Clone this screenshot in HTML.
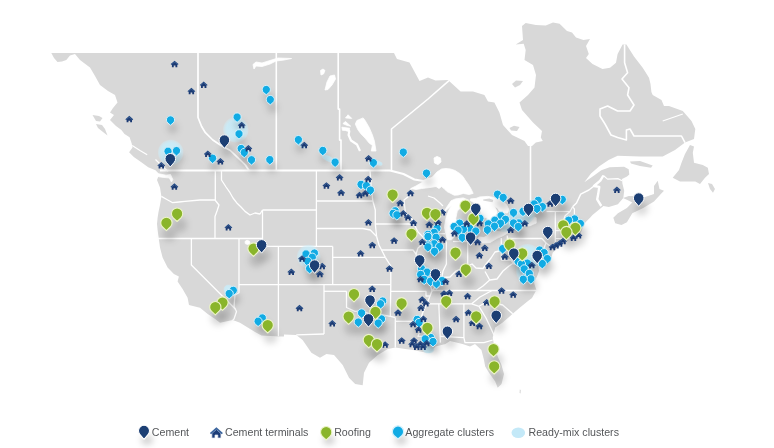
<!DOCTYPE html><html><head><meta charset="utf-8"><style>
html,body{margin:0;padding:0;background:#fff;}body{width:774px;height:448px;overflow:hidden;font-family:"Liberation Sans",sans-serif;}svg{display:block;will-change:transform;transform:translateZ(0)}
.lg{font-size:10.65px;fill:#55575a;font-family:"Liberation Sans",sans-serif;}
</style></head><body>
<svg width="774" height="448" viewBox="0 0 774 448">
<defs>
<filter id="sh" x="-80%" y="-80%" width="300%" height="300%"><feGaussianBlur stdDeviation="3"/></filter>
<radialGradient id="rg"><stop offset="0" stop-color="#cbeefa" stop-opacity="0.97"/><stop offset="0.75" stop-color="#c8ecf9" stop-opacity="0.88"/><stop offset="1" stop-color="#cdeefa" stop-opacity="0.35"/></radialGradient>
<filter id="wb" x="-20%" y="-20%" width="140%" height="140%"><feGaussianBlur stdDeviation="0.55"/></filter>
<filter id="lb" x="-20%" y="-20%" width="140%" height="140%"><feGaussianBlur stdDeviation="0.5"/></filter>
<g id="pC"><path d="M0,0 L-4.04,-4.77 A5.3,5.3 0 1 1 4.04,-4.77 Z" fill="#1c3f74" stroke="#ffffff" stroke-width="1.0" stroke-linejoin="round"/></g>
<g id="pR"><path d="M0,0 L-3.90,-3.71 A5.65,5.65 0 1 1 3.90,-3.71 Z" fill="#8ab52b" stroke="#ecf4c8" stroke-width="1.1" stroke-linejoin="round"/></g>
<g id="pA"><path d="M0,0 L-2.60,-2.13 A4.1,4.1 0 1 1 2.60,-2.13 Z" fill="#11abe4" stroke="#d4f1fc" stroke-width="1.0" stroke-linejoin="round"/></g>
<g id="pT"><g transform="scale(0.6)"><path d="M-4.5,0.4 L0,-3.5 L4.5,0.4 L4.5,5.1 L1.4,5.1 L1.4,2.3 L-1.4,2.3 L-1.4,5.1 L-4.5,5.1Z" fill="#1b3a73"/><path d="M-5.9,0.7 L0,-4.5 L5.9,0.7" fill="none" stroke="#234a85" stroke-width="1.9" stroke-linejoin="miter"/></g></g>
<g id="pTL"><g transform="scale(0.6)"><path d="M-4.5,0.4 L0,-3.5 L4.5,0.4 L4.5,5.1 L1.4,5.1 L1.4,2.1 L-1.4,2.1 L-1.4,5.1 L-4.5,5.1Z" fill="#1d3d78" stroke="#e8ecf3" stroke-width="0.7"/><path d="M-5.9,0.7 L0,-4.5 L5.9,0.7" fill="none" stroke="#3a649e" stroke-width="1.7" stroke-linejoin="miter"/></g></g>
</defs>
<g filter="url(#lb)">
<path d="M519.8,389.5 L520.8,390.0 L520.6,393.5 L519.6,393.0Z" fill="#d8d8d8"/>
<path d="M51.3,53.0 L54.0,58.0 L57.5,62.0 L62.0,61.5 L66.3,60.0 L70.0,55.5 L75.0,54.0 L80.0,60.0 L90.0,67.5 L95.0,76.0 L100.0,85.0 L108.0,91.0 L115.0,95.0 L117.5,102.5 L113.0,108.0 L110.0,112.5 L114.0,115.0 L110.0,120.0 L116.0,126.0 L121.4,130.0 L124.5,134.1 L129.6,137.2 L131.7,143.4 L132.5,147.6 L129.1,152.2 L133.8,156.9 L141.0,162.0 L148.2,167.2 L155.5,170.3 L158.6,173.4 L158.5,176.0 L157.0,180.0 L160.0,187.6 L161.4,196.4 L160.0,205.0 L158.5,212.0 L157.6,217.7 L157.0,224.0 L157.6,230.0 L158.8,238.8 L160.0,247.6 L162.6,257.6 L167.6,267.6 L173.9,273.9 L178.9,276.4 L177.6,281.4 L182.6,289.0 L187.6,297.7 L189.0,305.0 L200.0,307.7 L207.7,314.0 L215.2,319.0 L220.0,322.7 L232.7,320.0 L240.0,322.7 L255.0,332.0 L261.5,335.5 L278.8,336.4 L284.0,336.4 L284.0,334.5 L296.3,335.0 L302.6,340.0 L311.4,352.7 L320.0,357.7 L326.4,354.0 L334.0,355.0 L342.7,365.0 L349.0,377.7 L355.2,384.0 L362.7,385.2 L364.0,372.7 L369.0,362.7 L377.8,355.0 L387.8,349.0 L395.3,347.6 L405.3,349.0 L413.0,350.0 L425.4,352.6 L430.0,352.5 L435.4,346.4 L445.4,344.0 L450.0,341.0 L462.6,344.0 L470.0,346.4 L475.0,344.0 L481.4,350.0 L484.0,360.0 L485.2,366.4 L489.0,372.7 L495.2,381.5 L497.7,387.7 L501.5,384.0 L504.0,374.0 L501.5,365.0 L497.7,356.4 L494.0,345.0 L492.7,337.6 L495.2,327.6 L502.7,322.6 L512.7,313.8 L520.0,307.5 L527.7,301.3 L532.0,298.0 L536.4,290.0 L534.0,282.7 L537.6,275.0 L540.0,268.0 L546.0,266.0 L550.0,262.7 L552.7,252.7 L557.7,247.7 L566.5,241.4 L575.0,238.0 L580.0,235.0 L582.8,227.6 L585.3,222.6 L590.3,217.6 L592.5,215.0 L598.9,209.7 L603.4,206.0 L608.8,207.0 L617.9,204.2 L623.3,197.9 L624.2,190.7 L622.4,183.5 L622.0,179.1 L627.0,176.5 L629.3,174.5 L628.7,169.3 L624.1,166.7 L609.6,167.2 L601.3,170.3 L594.1,175.5 L584.3,182.2 L591.0,173.4 L599.3,166.2 L608.6,160.0 L617.6,155.7 L640.0,156.5 L662.7,156.4 L675.0,150.0 L685.0,142.6 L694.0,139.0 L695.3,129.0 L691.5,121.0 L682.8,111.0 L669.0,106.0 L664.0,106.0 L661.5,100.0 L652.7,95.0 L651.4,92.0 L650.5,84.0 L649.0,77.7 L642.7,67.7 L634.0,56.4 L626.4,44.6 L622.6,44.6 L617.6,54.0 L616.0,62.7 L610.0,67.7 L602.5,69.0 L592.5,64.0 L586.0,58.0 L588.8,54.0 L586.0,46.0 L590.0,39.0 L583.4,40.0 L576.0,37.5 L572.0,32.5 L567.0,31.0 L559.6,23.8 L553.0,22.5 L545.8,25.5 L535.8,25.0 L525.7,23.0 L522.0,26.0 L523.0,40.0 L515.7,44.5 L523.7,43.8 L525.7,50.0 L524.5,60.0 L533.0,65.0 L536.0,75.0 L534.5,87.5 L528.0,95.0 L519.5,102.5 L522.0,110.0 L533.0,122.5 L542.0,131.0 L540.8,137.6 L542.8,141.0 L535.8,142.6 L532.0,146.0 L528.0,146.0 L524.5,141.0 L512.0,135.0 L503.0,125.0 L499.4,112.5 L494.4,102.5 L488.0,101.5 L484.4,95.0 L473.0,91.5 L460.6,91.5 L448.0,80.0 L435.5,80.5 L428.0,77.5 L419.5,81.0 L409.5,62.5 L397.0,59.0 L394.0,53.0Z" fill="#d8d8d8"/>
<path d="M92.5,115.0 L99.0,116.0 L102.5,118.0 L100.0,121.5 L96.0,121.0Z" fill="#d8d8d8"/>
<path d="M96.0,124.0 L102.0,125.0 L105.0,129.0 L107.5,135.5 L103.0,132.0 L98.0,128.0Z" fill="#d8d8d8"/>
<path d="M623.0,198.0 L626.9,199.7 L632.3,202.4 L626.9,207.9 L617.9,213.3 L613.3,217.8 L615.2,223.2 L621.5,225.0 L626.9,222.3 L632.3,213.3 L643.2,207.9 L654.0,201.5 L661.3,193.4 L664.0,190.7 L659.5,188.9 L657.7,180.7 L654.0,186.0 L654.0,194.0 L645.0,197.0 L632.3,196.0 L628.7,196.0 L626.0,197.0Z" fill="#d8d8d8"/>
<path d="M630.0,161.5 L640.0,161.0 L652.7,165.5 L651.0,167.7 L640.0,166.0 L631.0,163.5Z" fill="#d8d8d8"/>
<path d="M690.0,145.0 L694.0,146.4 L692.8,152.7 L694.0,162.7 L702.8,165.0 L707.8,167.7 L709.0,174.0 L705.0,177.7 L700.0,184.0 L695.3,181.5 L680.0,181.5 L672.7,177.7 L679.0,170.0 L681.5,162.7 L685.0,154.0Z" fill="#d8d8d8"/>
<path d="M708.0,183.0 L712.0,184.0 L715.0,189.0 L713.0,192.7 L710.0,189.0Z" fill="#d8d8d8"/>
<path d="M509.5,128.0 L514.0,125.8 L519.5,127.0 L517.0,131.0 L511.0,130.5Z" fill="#d8d8d8"/>
<path d="M512.0,84.0 L516.0,80.5 L523.0,81.0 L520.0,85.0 L515.0,87.5Z" fill="#d8d8d8"/>
<g filter="url(#wb)">
<path d="M152.0,171.8 L158.6,173.8 L166.0,175.2 L170.5,174.5 L172.8,179.5 L171.5,182.0 L169.3,178.0 L165.0,177.6 L159.0,176.8 L155.0,175.3Z" fill="#fff" stroke="#fff" stroke-width="0.8" stroke-linejoin="round"/>
<path d="M245.0,241.5 L247.0,240.2 L249.5,241.2 L250.0,243.5 L247.5,244.5 L245.3,243.6Z" fill="#fff" stroke="#fff" stroke-width="0.8" stroke-linejoin="round"/>
<path d="M410.9,188.5 L416.0,186.0 L423.5,181.6 L428.0,179.0 L432.5,177.0 L437.0,172.0 L441.6,169.0 L446.0,168.5 L450.6,169.0 L455.0,170.5 L459.7,173.5 L463.0,176.5 L465.0,179.8 L468.0,184.0 L470.5,188.0 L473.2,193.4 L469.0,194.5 L463.3,193.4 L458.0,195.0 L454.2,195.2 L450.0,193.0 L447.0,191.6 L444.0,188.5 L441.5,186.5 L439.0,188.5 L436.0,186.5 L430.0,187.5 L421.7,188.5 L416.0,189.5Z" fill="#fff" stroke="#fff" stroke-width="0.8" stroke-linejoin="round"/>
<path d="M469.1,200.4 L463.2,197.9 L455.4,198.9 L451.1,200.8 L446.7,207.2 L443.6,212.5 L447.5,209.1 L451.8,205.2 L449.1,209.6 L446.3,216.8 L444.4,226.9 L446.0,234.9 L447.5,239.7 L451.5,239.8 L455.4,235.9 L457.7,229.3 L456.9,225.5 L455.8,218.3 L457.3,211.1 L462.0,206.2 L462.8,210.1 L464.0,208.1 L465.2,205.2 L467.5,204.3 L467.9,201.3Z" fill="#fff" stroke="#fff" stroke-width="0.8" stroke-linejoin="round"/>
<path d="M470.1,200.4 L470.5,198.9 L476.0,198.4 L479.9,196.9 L487.8,196.4 L494.1,197.4 L496.4,198.9 L501.1,199.9 L506.6,204.7 L509.0,210.1 L507.4,213.0 L499.9,212.0 L498.0,208.6 L494.4,205.7 L497.2,212.0 L494.1,217.8 L494.1,222.6 L488.6,227.4 L487.8,222.6 L487.0,217.8 L483.9,217.3 L476.8,221.2 L480.7,214.9 L481.1,207.7 L479.9,204.7 L476.8,203.8 L472.5,201.8Z" fill="#fff" stroke="#fff" stroke-width="0.8" stroke-linejoin="round"/>
<path d="M476.3,240.2 L479.1,236.9 L483.8,237.6 L488.5,235.0 L494.0,231.2 L500.3,231.7 L501.8,229.8 L509.3,229.1 L512.0,229.3 L508.5,232.6 L502.6,235.9 L497.1,238.3 L490.1,242.5 L482.2,243.0Z" fill="#fff" stroke="#fff" stroke-width="0.8" stroke-linejoin="round"/>
<path d="M508.0,225.5 L511.1,222.3 L515.4,220.0 L520.9,219.3 L529.2,219.8 L533.9,216.9 L536.2,217.8 L536.2,223.1 L533.9,223.9 L530.0,225.8 L525.2,225.9 L518.2,224.8 L513.9,226.5 L511.1,226.9Z" fill="#fff" stroke="#fff" stroke-width="0.8" stroke-linejoin="round"/>
<path d="M253.0,64.5 L256.0,62.0 L262.0,63.0 L270.0,60.5 L278.0,58.0 L291.6,58.5 L284.0,60.0 L276.0,61.0 L270.0,64.0 L262.0,66.5 L256.0,66.0 L254.0,69.0Z" fill="#fff" stroke="#fff" stroke-width="0.8" stroke-linejoin="round"/>
<path d="M320.5,70.5 L323.0,69.0 L325.0,70.5 L323.5,74.0 L321.0,75.0Z" fill="#fff" stroke="#fff" stroke-width="0.8" stroke-linejoin="round"/>
<path d="M327.0,82.0 L330.0,76.0 L334.5,75.0 L335.5,79.0 L332.0,85.0 L328.0,89.5 L325.0,90.0 L326.0,86.0Z" fill="#fff" stroke="#fff" stroke-width="0.8" stroke-linejoin="round"/>
<path d="M345.5,117.9 L348.1,114.8 L351.7,118.4Z" fill="#fff" stroke="#fff" stroke-width="0.8" stroke-linejoin="round"/>
<path d="M355.3,124.1 L356.9,120.5 L363.1,117.9 L365.1,120.5 L369.3,127.7 L372.4,135.0 L374.4,141.2 L376.0,151.0 L371.3,151.0 L372.4,145.3 L369.3,143.2 L365.1,138.1 L361.0,133.9 L357.9,129.8Z" fill="#fff" stroke="#fff" stroke-width="0.8" stroke-linejoin="round"/>
<path d="M342.9,123.6 L345.5,121.5 L350.7,126.2 L346.5,125.2Z" fill="#fff" stroke="#fff" stroke-width="0.8" stroke-linejoin="round"/>
<path d="M341.9,127.2 L349.6,128.3 L349.1,130.8 L342.4,130.3Z" fill="#fff" stroke="#fff" stroke-width="0.8" stroke-linejoin="round"/>
<path d="M434.0,158.0 L437.0,156.4 L440.5,158.0 L441.0,162.0 L438.0,164.6 L434.5,163.0Z" fill="#fff" stroke="#fff" stroke-width="0.8" stroke-linejoin="round"/>
</g>
<path d="M483.1,199.4 L489.3,198.6 L493.3,199.9 L492.5,202.3 L487.0,201.3 L483.1,200.4Z" fill="#d8d8d8"/>
<path d="M160.0,170.5 L390.0,170.5" fill="none" stroke="#fff" stroke-width="1.8" stroke-linejoin="round"/>
<path d="M390.0,170.5 L393.0,171.3 L403.5,174.0 L414.4,179.5 L423.4,181.0 L430.0,178.5" fill="none" stroke="#fff" stroke-width="2.0" stroke-linejoin="round"/>
<path d="M198.0,53.0 L198.0,117.5 L201.6,126.5 L205.4,132.7 L212.8,140.0 L220.3,145.0 L230.3,150.5 L237.8,157.6 L245.4,165.0 L249.0,170.5" fill="none" stroke="#fff" stroke-width="1.7" stroke-linejoin="round"/>
<path d="M276.3,53.0 L276.3,170.5" fill="none" stroke="#fff" stroke-width="1.6" stroke-linejoin="round"/>
<path d="M338.2,53.0 L338.2,109.1 L339.6,109.1 L339.6,140.1 L341.0,140.1 L341.0,170.5" fill="none" stroke="#fff" stroke-width="1.6" stroke-linejoin="round"/>
<path d="M449.0,80.7 L428.0,99.0 L391.5,129.0 L391.5,170.5" fill="none" stroke="#fff" stroke-width="1.6" stroke-linejoin="round"/>
<path d="M530.5,146.0 L530.5,200.5" fill="none" stroke="#fff" stroke-width="1.6" stroke-linejoin="round"/>
<path d="M624.6,44.6 L624.6,62.7 L627.6,72.7 L622.0,79.0 L629.0,87.7 L627.6,95.0 L634.0,105.0 L630.0,111.0 L617.6,111.0 L607.6,106.0 L600.0,109.0 L600.0,116.0 L605.0,124.0 L611.0,135.0 L617.6,137.6 L626.4,140.0 L626.4,130.0 L630.0,129.0 L634.0,136.0 L681.5,136.0 L685.0,142.6" fill="none" stroke="#fff" stroke-width="1.6" stroke-linejoin="round"/>
<path d="M662.7,121.0 L682.8,114.0" fill="none" stroke="#fff" stroke-width="1.2" stroke-linejoin="round"/>
<path d="M603.4,175.5 L607.5,179.1 L617.9,178.6 L622.0,180.7" fill="none" stroke="#fff" stroke-width="1.2" stroke-linejoin="round"/>
<path d="M603.4,175.5 L600.3,180.7 L594.0,186.0 L599.3,186.9 L598.2,194.1 L597.2,199.3 L601.3,206.0" fill="none" stroke="#fff" stroke-width="2.4" stroke-linejoin="round"/>
<path d="M594.0,186.0 L588.9,190.0 L580.7,194.1 L576.5,203.0 L572.6,206.8" fill="none" stroke="#fff" stroke-width="1.5" stroke-linejoin="round"/>
<path d="M572.6,206.8 L574.4,209.0 L574.4,215.7 L576.0,222.0 L578.0,226.0" fill="none" stroke="#fff" stroke-width="1.2" stroke-linejoin="round"/>
<path d="M572.6,206.8 L570.0,211.5 L565.1,215.7 L563.0,222.0 L561.0,230.7" fill="none" stroke="#fff" stroke-width="1.2" stroke-linejoin="round"/>
<path d="M546.5,211.5 L570.3,211.5" fill="none" stroke="#fff" stroke-width="1.2" stroke-linejoin="round"/>
<path d="M555.3,211.5 L555.3,246.0" fill="none" stroke="#fff" stroke-width="1.2" stroke-linejoin="round"/>
<path d="M555.3,230.7 L578.0,230.7" fill="none" stroke="#fff" stroke-width="1.0" stroke-linejoin="round"/>
<path d="M555.3,238.5 L571.0,238.5" fill="none" stroke="#fff" stroke-width="1.0" stroke-linejoin="round"/>
<path d="M569.0,238.5 L569.0,242.5" fill="none" stroke="#fff" stroke-width="1.0" stroke-linejoin="round"/>
<path d="M215.3,170.5 L215.3,200.0" fill="none" stroke="#fff" stroke-width="1.3" stroke-linejoin="round"/>
<path d="M161.4,196.4 L166.0,199.0 L172.7,202.7 L179.0,202.0 L185.0,201.4 L200.0,200.0 L215.0,200.0" fill="none" stroke="#fff" stroke-width="1.3" stroke-linejoin="round"/>
<path d="M215.0,200.0 L219.0,205.0 L217.0,211.0 L215.0,216.4 L215.0,238.5" fill="none" stroke="#fff" stroke-width="1.3" stroke-linejoin="round"/>
<path d="M221.5,170.5 L221.5,180.0 L226.0,187.0 L230.0,192.7 L233.0,198.0 L236.6,202.7 L241.0,207.0 L245.0,211.4 L250.0,215.0 L255.0,213.0 L260.0,214.0 L262.5,210.0" fill="none" stroke="#fff" stroke-width="1.3" stroke-linejoin="round"/>
<path d="M262.5,210.0 L316.4,210.0" fill="none" stroke="#fff" stroke-width="1.3" stroke-linejoin="round"/>
<path d="M262.5,210.0 L262.5,246.4" fill="none" stroke="#fff" stroke-width="1.3" stroke-linejoin="round"/>
<path d="M158.0,238.5 L262.5,238.5" fill="none" stroke="#fff" stroke-width="1.3" stroke-linejoin="round"/>
<path d="M262.5,246.4 L332.7,246.4" fill="none" stroke="#fff" stroke-width="1.3" stroke-linejoin="round"/>
<path d="M316.4,170.5 L316.4,246.4" fill="none" stroke="#fff" stroke-width="1.3" stroke-linejoin="round"/>
<path d="M316.4,201.0 L372.8,201.0" fill="none" stroke="#fff" stroke-width="1.3" stroke-linejoin="round"/>
<path d="M316.4,228.5 L362.8,228.5 L370.3,230.0 L376.6,236.5" fill="none" stroke="#fff" stroke-width="1.3" stroke-linejoin="round"/>
<path d="M191.4,238.5 L191.4,265.0 L235.3,309.0" fill="none" stroke="#fff" stroke-width="1.3" stroke-linejoin="round"/>
<path d="M239.0,238.5 L239.0,292.7 L235.0,295.0 L234.0,306.5 L236.5,311.5 L234.0,319.0 L232.7,320.0" fill="none" stroke="#fff" stroke-width="1.3" stroke-linejoin="round"/>
<path d="M239.0,284.7 L390.8,284.7" fill="none" stroke="#fff" stroke-width="1.3" stroke-linejoin="round"/>
<path d="M278.4,246.4 L278.4,336.4" fill="none" stroke="#fff" stroke-width="1.3" stroke-linejoin="round"/>
<path d="M332.7,246.4 L332.7,284.7" fill="none" stroke="#fff" stroke-width="1.3" stroke-linejoin="round"/>
<path d="M332.7,257.3 L385.3,257.3" fill="none" stroke="#fff" stroke-width="1.3" stroke-linejoin="round"/>
<path d="M324.0,284.7 L324.0,334.0" fill="none" stroke="#fff" stroke-width="1.3" stroke-linejoin="round"/>
<path d="M324.0,291.3 L346.5,291.3" fill="none" stroke="#fff" stroke-width="1.3" stroke-linejoin="round"/>
<path d="M346.5,291.3 L346.5,307.5 L355.0,311.3 L362.0,311.0 L370.0,313.8 L382.8,315.0 L390.3,316.3 L395.3,317.5" fill="none" stroke="#fff" stroke-width="1.3" stroke-linejoin="round"/>
<path d="M296.3,334.8 L324.0,334.0" fill="none" stroke="#fff" stroke-width="1.3" stroke-linejoin="round"/>
<path d="M390.8,284.7 L390.3,316.3" fill="none" stroke="#fff" stroke-width="1.3" stroke-linejoin="round"/>
<path d="M395.3,317.5 L395.3,347.6" fill="none" stroke="#fff" stroke-width="1.3" stroke-linejoin="round"/>
<path d="M395.3,321.3 L419.5,321.3" fill="none" stroke="#fff" stroke-width="1.3" stroke-linejoin="round"/>
<path d="M390.8,284.7 L390.8,266.0 L385.3,257.3" fill="none" stroke="#fff" stroke-width="1.3" stroke-linejoin="round"/>
<path d="M390.8,291.3 L426.0,291.3 L426.0,296.0 L430.0,296.0" fill="none" stroke="#fff" stroke-width="1.3" stroke-linejoin="round"/>
<path d="M381.6,250.0 L413.0,250.0 L416.0,254.0" fill="none" stroke="#fff" stroke-width="1.3" stroke-linejoin="round"/>
<path d="M375.3,224.0 L414.0,224.0" fill="none" stroke="#fff" stroke-width="1.3" stroke-linejoin="round"/>
<path d="M376.6,236.5 L379.0,245.0 L381.6,250.0 L385.3,257.3" fill="none" stroke="#fff" stroke-width="1.3" stroke-linejoin="round"/>
<path d="M372.8,201.0 L375.3,210.0 L375.3,224.0 L376.6,236.5" fill="none" stroke="#fff" stroke-width="1.3" stroke-linejoin="round"/>
<path d="M370.0,170.5 L371.0,185.0 L372.8,201.0" fill="none" stroke="#fff" stroke-width="1.3" stroke-linejoin="round"/>
<path d="M410.9,188.5 L410.4,195.0 L404.0,200.0 L405.4,212.7 L415.4,222.7 L414.0,224.0 L418.0,232.0 L423.0,237.0 L424.0,243.0 L418.0,248.0 L416.0,254.0 L418.0,262.0 L424.0,270.0 L423.0,276.0 L430.0,284.0 L432.0,291.0 L430.0,296.0 L427.0,303.8 L423.0,312.0 L420.0,321.3 L420.4,330.0 L418.0,336.4 L433.0,336.4 L434.0,344.0" fill="none" stroke="#fff" stroke-width="1.3" stroke-linejoin="round"/>
<path d="M423.0,233.7 L445.0,233.7" fill="none" stroke="#fff" stroke-width="1.3" stroke-linejoin="round"/>
<path d="M428.0,196.0 L434.0,198.0 L440.0,203.0 L443.0,206.0" fill="none" stroke="#fff" stroke-width="1.3" stroke-linejoin="round"/>
<path d="M446.4,241.6 L446.4,264.0 L443.0,271.0 L441.9,277.5" fill="none" stroke="#fff" stroke-width="1.3" stroke-linejoin="round"/>
<path d="M467.7,241.5 L467.7,266.0" fill="none" stroke="#fff" stroke-width="1.3" stroke-linejoin="round"/>
<path d="M453.0,241.5 L480.0,241.5" fill="none" stroke="#fff" stroke-width="1.3" stroke-linejoin="round"/>
<path d="M432.0,291.0 L436.0,286.0 L441.9,277.5 L450.0,277.0 L456.0,271.0 L463.0,268.0 L467.7,266.0 L472.0,264.0 L476.0,268.0 L483.0,268.5 L487.0,263.0 L491.0,258.0 L495.0,252.0 L501.3,250.5" fill="none" stroke="#fff" stroke-width="1.3" stroke-linejoin="round"/>
<path d="M432.0,290.5 L537.0,290.5" fill="none" stroke="#fff" stroke-width="1.3" stroke-linejoin="round"/>
<path d="M427.0,303.8 L471.7,303.8 L479.0,306.3" fill="none" stroke="#fff" stroke-width="1.3" stroke-linejoin="round"/>
<path d="M471.7,303.8 L480.0,297.0 L492.0,290.5" fill="none" stroke="#fff" stroke-width="1.3" stroke-linejoin="round"/>
<path d="M438.8,303.8 L440.4,342.6" fill="none" stroke="#fff" stroke-width="1.3" stroke-linejoin="round"/>
<path d="M463.9,303.8 L463.9,337.6" fill="none" stroke="#fff" stroke-width="1.3" stroke-linejoin="round"/>
<path d="M440.0,336.4 L463.9,337.6 L465.0,342.6 L484.0,342.6 L492.7,340.0" fill="none" stroke="#fff" stroke-width="1.3" stroke-linejoin="round"/>
<path d="M479.0,306.3 L486.0,318.0 L494.0,335.0" fill="none" stroke="#fff" stroke-width="1.3" stroke-linejoin="round"/>
<path d="M479.0,306.3 L487.7,301.3 L502.7,305.0 L512.7,313.8" fill="none" stroke="#fff" stroke-width="1.3" stroke-linejoin="round"/>
<path d="M476.5,290.5 L483.0,286.0 L489.7,280.0 L487.0,275.0 L485.0,271.5" fill="none" stroke="#fff" stroke-width="1.3" stroke-linejoin="round"/>
<path d="M489.7,280.0 L497.0,279.0 L503.0,271.0 L509.0,266.0 L515.0,262.0 L518.0,265.0 L523.0,264.0" fill="none" stroke="#fff" stroke-width="1.3" stroke-linejoin="round"/>
<path d="M501.3,238.0 L501.3,260.0" fill="none" stroke="#fff" stroke-width="1.3" stroke-linejoin="round"/>
<path d="M501.3,260.0 L538.4,260.0" fill="none" stroke="#fff" stroke-width="1.3" stroke-linejoin="round"/>
<path d="M511.0,260.0 L514.0,264.0 L523.0,264.0 L528.0,268.0 L531.0,273.0 L534.0,278.0" fill="none" stroke="#fff" stroke-width="1.3" stroke-linejoin="round"/>
<path d="M507.3,235.5 L507.3,238.5 L541.9,238.5 L546.0,243.0 L544.0,248.0 L547.0,253.0 L542.0,259.0 L540.0,263.0" fill="none" stroke="#fff" stroke-width="1.3" stroke-linejoin="round"/>
<path d="M546.0,243.0 L553.0,248.0" fill="none" stroke="#fff" stroke-width="1.3" stroke-linejoin="round"/>
<path d="M538.4,260.0 L539.5,270.0 L545.0,270.0" fill="none" stroke="#fff" stroke-width="1.3" stroke-linejoin="round"/>
<path d="M132.2,145.5 L140.0,150.5 L147.2,154.8" fill="none" stroke="#fff" stroke-width="1.2" stroke-linejoin="round"/>
<path d="M155.5,159.5 L161.0,165.0 L167.9,171.3" fill="none" stroke="#fff" stroke-width="1.2" stroke-linejoin="round"/>
<path d="M346.0,130.0 L349.3,131.0 L348.6,135.0 L351.0,140.5 L357.0,144.5 L360.0,151.0" fill="none" stroke="#fff" stroke-width="2.2" stroke-linejoin="round"/>
</g>
<ellipse cx="170.7" cy="152.4" rx="12.7" ry="12.7" transform="rotate(0 170.7 152.4)" fill="url(#rg)"/>
<ellipse cx="235.8" cy="129.8" rx="12.7" ry="12.7" transform="rotate(0 235.8 129.8)" fill="url(#rg)"/>
<ellipse cx="308.7" cy="256.6" rx="11.8" ry="11.8" transform="rotate(0 308.7 256.6)" fill="url(#rg)"/>
<ellipse cx="328" cy="158.5" rx="7" ry="3" transform="rotate(25 328 158.5)" fill="url(#rg)"/>
<ellipse cx="301.5" cy="145" rx="5" ry="2.5" transform="rotate(35 301.5 145)" fill="url(#rg)"/>
<ellipse cx="378" cy="163" rx="5" ry="2.5" transform="rotate(20 378 163)" fill="url(#rg)"/>
<ellipse cx="228.5" cy="289.5" rx="5" ry="5" transform="rotate(0 228.5 289.5)" fill="url(#rg)"/>
<ellipse cx="517" cy="220.2" rx="21" ry="9" transform="rotate(-25 517 220.2)" fill="url(#rg)"/>
<ellipse cx="527.5" cy="257.5" rx="13.5" ry="13.5" transform="rotate(0 527.5 257.5)" fill="url(#rg)"/>
<ellipse cx="524" cy="271" rx="8" ry="11" transform="rotate(0 524 271)" fill="url(#rg)"/>
<ellipse cx="428.5" cy="349.6" rx="6" ry="4" transform="rotate(0 428.5 349.6)" fill="url(#rg)"/>
<g filter="url(#sh)" fill="#000" fill-opacity="0.14">
<ellipse cx="172.6" cy="128.1" rx="5.3" ry="5.3"/>
<ellipse cx="239.2" cy="125.2" rx="5.3" ry="5.3"/>
<ellipse cx="241.1" cy="142.0" rx="5.3" ry="5.3"/>
<ellipse cx="170.1" cy="159.4" rx="5.3" ry="5.3"/>
<ellipse cx="178.6" cy="158.8" rx="5.3" ry="5.3"/>
<ellipse cx="214.7" cy="166.4" rx="5.3" ry="5.3"/>
<ellipse cx="243.2" cy="156.7" rx="5.3" ry="5.3"/>
<ellipse cx="246.4" cy="160.6" rx="5.3" ry="5.3"/>
<ellipse cx="253.6" cy="167.9" rx="5.3" ry="5.3"/>
<ellipse cx="271.9" cy="167.8" rx="5.3" ry="5.3"/>
<ellipse cx="268.4" cy="97.7" rx="5.3" ry="5.3"/>
<ellipse cx="272.4" cy="107.7" rx="5.3" ry="5.3"/>
<ellipse cx="300.4" cy="147.8" rx="5.3" ry="5.3"/>
<ellipse cx="324.9" cy="158.6" rx="5.3" ry="5.3"/>
<ellipse cx="337.2" cy="170.3" rx="5.3" ry="5.3"/>
<ellipse cx="173.0" cy="169.4" rx="6.9" ry="6.9"/>
<ellipse cx="227.1" cy="150.7" rx="6.9" ry="6.9"/>
<ellipse cx="179.9" cy="225.0" rx="7.3" ry="7.3"/>
<ellipse cx="169.2" cy="234.2" rx="7.3" ry="7.3"/>
<ellipse cx="256.3" cy="259.8" rx="7.3" ry="7.3"/>
<ellipse cx="225.3" cy="313.8" rx="7.3" ry="7.3"/>
<ellipse cx="218.1" cy="318.4" rx="7.3" ry="7.3"/>
<ellipse cx="270.5" cy="336.5" rx="7.3" ry="7.3"/>
<ellipse cx="264.2" cy="255.5" rx="6.9" ry="6.9"/>
<ellipse cx="317.2" cy="275.7" rx="6.9" ry="6.9"/>
<ellipse cx="235.4" cy="298.5" rx="5.3" ry="5.3"/>
<ellipse cx="231.2" cy="301.7" rx="5.3" ry="5.3"/>
<ellipse cx="264.4" cy="326.1" rx="5.3" ry="5.3"/>
<ellipse cx="260.2" cy="329.4" rx="5.3" ry="5.3"/>
<ellipse cx="308.1" cy="262.1" rx="5.3" ry="5.3"/>
<ellipse cx="316.4" cy="261.2" rx="5.3" ry="5.3"/>
<ellipse cx="314.4" cy="265.4" rx="5.3" ry="5.3"/>
<ellipse cx="309.9" cy="269.4" rx="5.3" ry="5.3"/>
<ellipse cx="311.7" cy="276.6" rx="5.3" ry="5.3"/>
<ellipse cx="375.4" cy="170.8" rx="5.3" ry="5.3"/>
<ellipse cx="405.4" cy="160.3" rx="5.3" ry="5.3"/>
<ellipse cx="428.6" cy="181.3" rx="5.3" ry="5.3"/>
<ellipse cx="363.1" cy="192.5" rx="5.3" ry="5.3"/>
<ellipse cx="368.4" cy="193.8" rx="5.3" ry="5.3"/>
<ellipse cx="372.4" cy="198.3" rx="5.3" ry="5.3"/>
<ellipse cx="397.2" cy="219.0" rx="5.3" ry="5.3"/>
<ellipse cx="395.2" cy="221.5" rx="5.3" ry="5.3"/>
<ellipse cx="398.9" cy="223.0" rx="5.3" ry="5.3"/>
<ellipse cx="439.1" cy="236.5" rx="5.3" ry="5.3"/>
<ellipse cx="429.9" cy="242.5" rx="5.3" ry="5.3"/>
<ellipse cx="436.2" cy="240.5" rx="5.3" ry="5.3"/>
<ellipse cx="438.2" cy="245.5" rx="5.3" ry="5.3"/>
<ellipse cx="429.9" cy="253.2" rx="5.3" ry="5.3"/>
<ellipse cx="436.2" cy="251.9" rx="5.3" ry="5.3"/>
<ellipse cx="441.6" cy="254.7" rx="5.3" ry="5.3"/>
<ellipse cx="436.6" cy="259.5" rx="5.3" ry="5.3"/>
<ellipse cx="430.1" cy="244.6" rx="5.3" ry="5.3"/>
<ellipse cx="429.9" cy="255.0" rx="5.3" ry="5.3"/>
<ellipse cx="395.4" cy="206.0" rx="7.3" ry="7.3"/>
<ellipse cx="429.8" cy="224.2" rx="7.3" ry="7.3"/>
<ellipse cx="438.2" cy="225.4" rx="7.3" ry="7.3"/>
<ellipse cx="414.3" cy="245.1" rx="7.3" ry="7.3"/>
<ellipse cx="468.2" cy="217.0" rx="7.3" ry="7.3"/>
<ellipse cx="476.3" cy="229.6" rx="7.3" ry="7.3"/>
<ellipse cx="478.4" cy="219.0" rx="6.9" ry="6.9"/>
<ellipse cx="473.2" cy="247.8" rx="6.9" ry="6.9"/>
<ellipse cx="482.1" cy="226.5" rx="5.3" ry="5.3"/>
<ellipse cx="456.2" cy="234.7" rx="5.3" ry="5.3"/>
<ellipse cx="461.7" cy="231.4" rx="5.3" ry="5.3"/>
<ellipse cx="460.2" cy="238.3" rx="5.3" ry="5.3"/>
<ellipse cx="465.6" cy="237.4" rx="5.3" ry="5.3"/>
<ellipse cx="471.9" cy="236.5" rx="5.3" ry="5.3"/>
<ellipse cx="477.9" cy="239.2" rx="5.3" ry="5.3"/>
<ellipse cx="464.4" cy="245.5" rx="5.3" ry="5.3"/>
<ellipse cx="499.6" cy="202.4" rx="5.3" ry="5.3"/>
<ellipse cx="505.2" cy="205.6" rx="5.3" ry="5.3"/>
<ellipse cx="515.5" cy="220.7" rx="5.3" ry="5.3"/>
<ellipse cx="503.1" cy="223.9" rx="5.3" ry="5.3"/>
<ellipse cx="507.6" cy="227.5" rx="5.3" ry="5.3"/>
<ellipse cx="496.9" cy="228.4" rx="5.3" ry="5.3"/>
<ellipse cx="502.6" cy="231.4" rx="5.3" ry="5.3"/>
<ellipse cx="490.4" cy="232.0" rx="5.3" ry="5.3"/>
<ellipse cx="496.6" cy="234.4" rx="5.3" ry="5.3"/>
<ellipse cx="489.4" cy="237.9" rx="5.3" ry="5.3"/>
<ellipse cx="520.3" cy="234.7" rx="5.3" ry="5.3"/>
<ellipse cx="520.9" cy="231.1" rx="5.3" ry="5.3"/>
<ellipse cx="515.5" cy="231.1" rx="5.3" ry="5.3"/>
<ellipse cx="525.0" cy="219.4" rx="5.3" ry="5.3"/>
<ellipse cx="540.2" cy="208.5" rx="5.3" ry="5.3"/>
<ellipse cx="536.2" cy="212.1" rx="5.3" ry="5.3"/>
<ellipse cx="544.4" cy="214.8" rx="5.3" ry="5.3"/>
<ellipse cx="539.0" cy="216.7" rx="5.3" ry="5.3"/>
<ellipse cx="564.3" cy="207.6" rx="5.3" ry="5.3"/>
<ellipse cx="531.1" cy="219.1" rx="6.9" ry="6.9"/>
<ellipse cx="558.2" cy="209.1" rx="6.9" ry="6.9"/>
<ellipse cx="550.4" cy="242.2" rx="6.9" ry="6.9"/>
<ellipse cx="641.4" cy="208.7" rx="6.9" ry="6.9"/>
<ellipse cx="566.0" cy="236.6" rx="7.3" ry="7.3"/>
<ellipse cx="569.2" cy="243.3" rx="7.3" ry="7.3"/>
<ellipse cx="578.1" cy="239.1" rx="7.3" ry="7.3"/>
<ellipse cx="570.6" cy="228.4" rx="5.3" ry="5.3"/>
<ellipse cx="576.6" cy="227.1" rx="5.3" ry="5.3"/>
<ellipse cx="582.4" cy="231.7" rx="5.3" ry="5.3"/>
<ellipse cx="512.4" cy="255.8" rx="7.3" ry="7.3"/>
<ellipse cx="525.0" cy="264.7" rx="7.3" ry="7.3"/>
<ellipse cx="504.7" cy="256.8" rx="5.3" ry="5.3"/>
<ellipse cx="541.8" cy="258.2" rx="5.3" ry="5.3"/>
<ellipse cx="546.1" cy="260.8" rx="5.3" ry="5.3"/>
<ellipse cx="549.3" cy="266.8" rx="5.3" ry="5.3"/>
<ellipse cx="544.3" cy="271.7" rx="5.3" ry="5.3"/>
<ellipse cx="519.9" cy="269.3" rx="5.3" ry="5.3"/>
<ellipse cx="523.5" cy="272.2" rx="5.3" ry="5.3"/>
<ellipse cx="529.3" cy="271.3" rx="5.3" ry="5.3"/>
<ellipse cx="526.2" cy="277.1" rx="5.3" ry="5.3"/>
<ellipse cx="531.3" cy="281.6" rx="5.3" ry="5.3"/>
<ellipse cx="525.3" cy="287.4" rx="5.3" ry="5.3"/>
<ellipse cx="532.9" cy="287.0" rx="5.3" ry="5.3"/>
<ellipse cx="516.4" cy="263.8" rx="6.9" ry="6.9"/>
<ellipse cx="539.9" cy="266.2" rx="6.9" ry="6.9"/>
<ellipse cx="468.6" cy="280.7" rx="7.3" ry="7.3"/>
<ellipse cx="497.4" cy="312.7" rx="7.3" ry="7.3"/>
<ellipse cx="458.3" cy="264.0" rx="7.3" ry="7.3"/>
<ellipse cx="422.3" cy="270.6" rx="6.9" ry="6.9"/>
<ellipse cx="438.1" cy="284.5" rx="6.9" ry="6.9"/>
<ellipse cx="423.6" cy="276.7" rx="5.3" ry="5.3"/>
<ellipse cx="429.1" cy="280.3" rx="5.3" ry="5.3"/>
<ellipse cx="422.7" cy="282.6" rx="5.3" ry="5.3"/>
<ellipse cx="426.2" cy="287.5" rx="5.3" ry="5.3"/>
<ellipse cx="432.7" cy="289.3" rx="5.3" ry="5.3"/>
<ellipse cx="438.6" cy="291.7" rx="5.3" ry="5.3"/>
<ellipse cx="444.1" cy="288.8" rx="5.3" ry="5.3"/>
<ellipse cx="449.0" cy="312.3" rx="7.3" ry="7.3"/>
<ellipse cx="404.4" cy="314.6" rx="7.3" ry="7.3"/>
<ellipse cx="378.2" cy="323.2" rx="7.3" ry="7.3"/>
<ellipse cx="479.0" cy="327.7" rx="7.3" ry="7.3"/>
<ellipse cx="372.6" cy="310.7" rx="6.9" ry="6.9"/>
<ellipse cx="498.8" cy="326.0" rx="6.9" ry="6.9"/>
<ellipse cx="382.6" cy="311.9" rx="5.3" ry="5.3"/>
<ellipse cx="384.8" cy="309.2" rx="5.3" ry="5.3"/>
<ellipse cx="356.8" cy="305.4" rx="7.3" ry="7.3"/>
<ellipse cx="351.4" cy="327.8" rx="7.3" ry="7.3"/>
<ellipse cx="371.6" cy="351.3" rx="7.3" ry="7.3"/>
<ellipse cx="379.8" cy="355.5" rx="7.3" ry="7.3"/>
<ellipse cx="430.2" cy="339.2" rx="7.3" ry="7.3"/>
<ellipse cx="496.3" cy="360.5" rx="7.3" ry="7.3"/>
<ellipse cx="497.0" cy="377.7" rx="7.3" ry="7.3"/>
<ellipse cx="371.1" cy="329.5" rx="6.9" ry="6.9"/>
<ellipse cx="450.0" cy="341.9" rx="6.9" ry="6.9"/>
<ellipse cx="363.7" cy="321.1" rx="5.3" ry="5.3"/>
<ellipse cx="360.4" cy="330.2" rx="5.3" ry="5.3"/>
<ellipse cx="380.2" cy="331.2" rx="5.3" ry="5.3"/>
<ellipse cx="383.6" cy="327.1" rx="5.3" ry="5.3"/>
<ellipse cx="419.2" cy="327.6" rx="5.3" ry="5.3"/>
<ellipse cx="421.2" cy="330.7" rx="5.3" ry="5.3"/>
<ellipse cx="427.2" cy="347.0" rx="5.3" ry="5.3"/>
<ellipse cx="432.8" cy="345.7" rx="5.3" ry="5.3"/>
<ellipse cx="435.1" cy="349.7" rx="5.3" ry="5.3"/>
</g>
<use href="#pA" x="266.3" y="94.8"/>
<use href="#pA" x="270.3" y="104.8"/>
<use href="#pA" x="237.1" y="122.3"/>
<use href="#pA" x="170.5" y="125.2"/>
<use href="#pA" x="239" y="139.1"/>
<use href="#pA" x="298.4" y="144.9"/>
<use href="#pA" x="241.2" y="153.8"/>
<use href="#pA" x="322.8" y="155.7"/>
<use href="#pA" x="176.5" y="155.9"/>
<use href="#pA" x="168" y="156.5"/>
<use href="#pA" x="403.3" y="157.4"/>
<use href="#pA" x="244.3" y="157.7"/>
<use href="#pA" x="212.6" y="163.5"/>
<use href="#pA" x="269.8" y="164.9"/>
<use href="#pA" x="251.5" y="165.0"/>
<use href="#pA" x="335.1" y="167.4"/>
<use href="#pA" x="373.4" y="167.9"/>
<use href="#pA" x="426.5" y="178.4"/>
<use href="#pA" x="361" y="189.6"/>
<use href="#pA" x="366.4" y="190.9"/>
<use href="#pA" x="370.4" y="195.4"/>
<use href="#pA" x="497.5" y="199.5"/>
<use href="#pA" x="503.2" y="202.7"/>
<use href="#pA" x="562.3" y="204.7"/>
<use href="#pA" x="538.2" y="205.6"/>
<use href="#pA" x="534.2" y="209.2"/>
<use href="#pA" x="542.4" y="211.9"/>
<use href="#pA" x="537" y="213.8"/>
<use href="#pA" x="395.2" y="216.1"/>
<use href="#pA" x="523" y="216.5"/>
<use href="#pA" x="513.5" y="217.8"/>
<use href="#pA" x="393.1" y="218.6"/>
<use href="#pA" x="396.9" y="220.1"/>
<use href="#pA" x="501" y="221.0"/>
<use href="#pA" x="480" y="223.6"/>
<use href="#pA" x="574.6" y="224.2"/>
<use href="#pA" x="505.5" y="224.6"/>
<use href="#pA" x="494.8" y="225.5"/>
<use href="#pA" x="568.6" y="225.5"/>
<use href="#pA" x="518.9" y="228.2"/>
<use href="#pA" x="513.5" y="228.2"/>
<use href="#pA" x="459.6" y="228.5"/>
<use href="#pA" x="500.5" y="228.5"/>
<use href="#pA" x="580.4" y="228.8"/>
<use href="#pA" x="488.3" y="229.1"/>
<use href="#pA" x="494.5" y="231.5"/>
<use href="#pA" x="454.1" y="231.8"/>
<use href="#pA" x="518.3" y="231.8"/>
<use href="#pA" x="437" y="233.6"/>
<use href="#pA" x="469.9" y="233.6"/>
<use href="#pA" x="463.5" y="234.5"/>
<use href="#pA" x="487.4" y="235.0"/>
<use href="#pA" x="458.1" y="235.4"/>
<use href="#pA" x="475.8" y="236.3"/>
<use href="#pA" x="434.2" y="237.6"/>
<use href="#pA" x="427.9" y="239.6"/>
<use href="#pA" x="428" y="241.7"/>
<use href="#pA" x="436.1" y="242.6"/>
<use href="#pA" x="462.3" y="242.6"/>
<use href="#pA" x="434.2" y="249.0"/>
<use href="#pA" x="427.9" y="250.3"/>
<use href="#pA" x="439.5" y="251.8"/>
<use href="#pA" x="427.9" y="252.1"/>
<use href="#pA" x="502.6" y="253.9"/>
<use href="#pA" x="539.7" y="255.3"/>
<use href="#pA" x="434.5" y="256.6"/>
<use href="#pA" x="544.1" y="257.9"/>
<use href="#pA" x="314.4" y="258.3"/>
<use href="#pA" x="306" y="259.2"/>
<use href="#pA" x="312.3" y="262.5"/>
<use href="#pA" x="547.3" y="263.9"/>
<use href="#pA" x="517.9" y="266.4"/>
<use href="#pA" x="307.8" y="266.5"/>
<use href="#pA" x="527.3" y="268.4"/>
<use href="#pA" x="542.3" y="268.8"/>
<use href="#pA" x="521.5" y="269.3"/>
<use href="#pA" x="309.6" y="273.7"/>
<use href="#pA" x="421.5" y="273.8"/>
<use href="#pA" x="524.2" y="274.2"/>
<use href="#pA" x="427" y="277.4"/>
<use href="#pA" x="529.3" y="278.7"/>
<use href="#pA" x="420.6" y="279.7"/>
<use href="#pA" x="530.9" y="284.1"/>
<use href="#pA" x="523.3" y="284.5"/>
<use href="#pA" x="424.2" y="284.6"/>
<use href="#pA" x="442" y="285.9"/>
<use href="#pA" x="430.6" y="286.4"/>
<use href="#pA" x="436.5" y="288.8"/>
<use href="#pA" x="233.3" y="295.6"/>
<use href="#pA" x="229.2" y="298.8"/>
<use href="#pA" x="382.7" y="306.3"/>
<use href="#pA" x="380.5" y="309.0"/>
<use href="#pA" x="361.6" y="318.2"/>
<use href="#pA" x="262.3" y="323.2"/>
<use href="#pA" x="381.5" y="324.2"/>
<use href="#pA" x="417.1" y="324.7"/>
<use href="#pA" x="258.1" y="326.5"/>
<use href="#pA" x="358.3" y="327.3"/>
<use href="#pA" x="419.1" y="327.8"/>
<use href="#pA" x="378.2" y="328.3"/>
<use href="#pA" x="430.7" y="342.8"/>
<use href="#pA" x="425.2" y="344.1"/>
<use href="#pA" x="433" y="346.8"/>
<use href="#pT" x="174.6" y="64.1"/>
<use href="#pT" x="203.7" y="84.9"/>
<use href="#pT" x="191.4" y="91.2"/>
<use href="#pT" x="129.3" y="119.3"/>
<use href="#pT" x="241.7" y="125.2"/>
<use href="#pT" x="304.3" y="145.2"/>
<use href="#pT" x="248.4" y="148.5"/>
<use href="#pT" x="207.8" y="153.9"/>
<use href="#pT" x="368.6" y="158.5"/>
<use href="#pT" x="220.4" y="161.5"/>
<use href="#pT" x="161.3" y="165.5"/>
<use href="#pT" x="339.6" y="177.4"/>
<use href="#pT" x="368.2" y="179.2"/>
<use href="#pT" x="326.4" y="185.6"/>
<use href="#pT" x="174.4" y="186.8"/>
<use href="#pT" x="616.9" y="189.9"/>
<use href="#pT" x="341.1" y="192.8"/>
<use href="#pT" x="410.5" y="193.2"/>
<use href="#pT" x="365.3" y="193.4"/>
<use href="#pT" x="359.5" y="195.2"/>
<use href="#pT" x="510.7" y="200.8"/>
<use href="#pT" x="400.2" y="203.1"/>
<use href="#pT" x="550.2" y="203.6"/>
<use href="#pT" x="442.4" y="212.4"/>
<use href="#pT" x="403.3" y="213.4"/>
<use href="#pT" x="408" y="217.5"/>
<use href="#pT" x="437.9" y="222.5"/>
<use href="#pT" x="368.4" y="222.5"/>
<use href="#pT" x="413.5" y="222.9"/>
<use href="#pT" x="479.5" y="223.2"/>
<use href="#pT" x="524.8" y="223.5"/>
<use href="#pT" x="466.8" y="223.8"/>
<use href="#pT" x="429.2" y="224.7"/>
<use href="#pT" x="228.4" y="227.4"/>
<use href="#pT" x="510.7" y="230.0"/>
<use href="#pT" x="454.5" y="233.4"/>
<use href="#pT" x="578.5" y="235.5"/>
<use href="#pT" x="573.5" y="237.9"/>
<use href="#pT" x="442.5" y="239.8"/>
<use href="#pT" x="394.1" y="240.6"/>
<use href="#pT" x="563" y="241.2"/>
<use href="#pT" x="422.3" y="242.0"/>
<use href="#pT" x="477.6" y="242.2"/>
<use href="#pT" x="559.6" y="243.6"/>
<use href="#pT" x="372.3" y="245.1"/>
<use href="#pT" x="556" y="245.5"/>
<use href="#pT" x="552.5" y="247.1"/>
<use href="#pT" x="484.8" y="248.0"/>
<use href="#pT" x="360.6" y="253.4"/>
<use href="#pT" x="479.4" y="255.5"/>
<use href="#pT" x="504.8" y="256.8"/>
<use href="#pT" x="302.1" y="258.6"/>
<use href="#pT" x="531.8" y="265.3"/>
<use href="#pT" x="488.9" y="266.0"/>
<use href="#pT" x="322.2" y="266.2"/>
<use href="#pT" x="389.5" y="268.6"/>
<use href="#pT" x="291.3" y="272.0"/>
<use href="#pT" x="459" y="273.9"/>
<use href="#pT" x="319.9" y="274.1"/>
<use href="#pT" x="420.6" y="279.3"/>
<use href="#pT" x="445.6" y="281.7"/>
<use href="#pT" x="372.2" y="288.9"/>
<use href="#pT" x="501.6" y="290.6"/>
<use href="#pT" x="449.4" y="293.0"/>
<use href="#pT" x="444" y="293.8"/>
<use href="#pT" x="513.2" y="294.6"/>
<use href="#pT" x="467.6" y="296.2"/>
<use href="#pT" x="422.2" y="299.8"/>
<use href="#pT" x="486.7" y="302.5"/>
<use href="#pT" x="425.9" y="303.4"/>
<use href="#pT" x="421" y="308.0"/>
<use href="#pT" x="299.5" y="308.3"/>
<use href="#pT" x="398" y="312.8"/>
<use href="#pT" x="468.4" y="312.8"/>
<use href="#pT" x="423.4" y="318.9"/>
<use href="#pT" x="456.1" y="319.3"/>
<use href="#pT" x="472.4" y="323.0"/>
<use href="#pT" x="332.3" y="323.4"/>
<use href="#pT" x="413.1" y="324.3"/>
<use href="#pT" x="479.4" y="326.1"/>
<use href="#pT" x="418.6" y="329.7"/>
<use href="#pT" x="401.7" y="340.6"/>
<use href="#pT" x="414" y="340.6"/>
<use href="#pT" x="426.7" y="343.3"/>
<use href="#pT" x="412.2" y="344.2"/>
<use href="#pT" x="420.4" y="344.2"/>
<use href="#pT" x="385.1" y="344.7"/>
<use href="#pT" x="416.7" y="346.9"/>
<use href="#pT" x="423.1" y="346.9"/>
<use href="#pR" x="392.6" y="202.5"/>
<use href="#pR" x="465.4" y="213.5"/>
<use href="#pR" x="427" y="220.7"/>
<use href="#pR" x="177.1" y="221.5"/>
<use href="#pR" x="435.4" y="221.9"/>
<use href="#pR" x="473.5" y="226.1"/>
<use href="#pR" x="166.4" y="230.7"/>
<use href="#pR" x="563.2" y="233.1"/>
<use href="#pR" x="575.3" y="235.6"/>
<use href="#pR" x="566.4" y="239.8"/>
<use href="#pR" x="411.5" y="241.6"/>
<use href="#pR" x="509.6" y="252.3"/>
<use href="#pR" x="253.5" y="256.3"/>
<use href="#pR" x="455.5" y="260.5"/>
<use href="#pR" x="522.2" y="261.2"/>
<use href="#pR" x="465.8" y="277.2"/>
<use href="#pR" x="354" y="301.9"/>
<use href="#pR" x="446.2" y="308.8"/>
<use href="#pR" x="494.6" y="309.2"/>
<use href="#pR" x="222.5" y="310.3"/>
<use href="#pR" x="401.6" y="311.1"/>
<use href="#pR" x="215.3" y="314.9"/>
<use href="#pR" x="375.4" y="319.7"/>
<use href="#pR" x="476.2" y="324.2"/>
<use href="#pR" x="348.6" y="324.3"/>
<use href="#pR" x="267.7" y="333.0"/>
<use href="#pR" x="427.4" y="335.7"/>
<use href="#pR" x="368.8" y="347.8"/>
<use href="#pR" x="377" y="352.0"/>
<use href="#pR" x="493.5" y="357.0"/>
<use href="#pR" x="494.2" y="374.2"/>
<use href="#pC" x="224.4" y="148.3"/>
<use href="#pC" x="170.3" y="167.0"/>
<use href="#pC" x="638.7" y="206.3"/>
<use href="#pC" x="555.6" y="206.7"/>
<use href="#pC" x="475.8" y="216.6"/>
<use href="#pC" x="528.5" y="216.7"/>
<use href="#pC" x="547.8" y="239.8"/>
<use href="#pC" x="470.6" y="245.4"/>
<use href="#pC" x="261.6" y="253.1"/>
<use href="#pC" x="513.8" y="261.4"/>
<use href="#pC" x="537.2" y="263.8"/>
<use href="#pC" x="419.7" y="268.2"/>
<use href="#pC" x="314.6" y="273.3"/>
<use href="#pC" x="435.5" y="282.1"/>
<use href="#pC" x="370" y="308.3"/>
<use href="#pC" x="496.2" y="323.6"/>
<use href="#pC" x="368.5" y="327.1"/>
<use href="#pC" x="447.4" y="339.5"/>
<g>
<g filter="url(#sh)" fill="#000" fill-opacity="0.18"><ellipse cx="147" cy="440" rx="6" ry="5"/><ellipse cx="329" cy="440" rx="6" ry="5"/><ellipse cx="401" cy="440" rx="6" ry="5"/></g>
<g transform="translate(144,439.3) scale(1.04)"><use href="#pC"/></g><text class="lg" x="151.8" y="436">Cement</text>
<g transform="translate(216.4,432.9) scale(1.68)"><use href="#pTL"/></g><text class="lg" x="225" y="436">Cement terminals</text>
<use href="#pR" x="326.2" y="440"/><text class="lg" x="334.2" y="436">Roofing</text>
<g transform="translate(398,439) scale(1.4)"><use href="#pA"/></g><text class="lg" x="405.3" y="436">Aggregate clusters</text>
<ellipse cx="518.3" cy="432.8" rx="6.8" ry="5.2" fill="#c4e9f8"/><text class="lg" x="528.5" y="436">Ready-mix clusters</text>
</g>
</svg></body></html>
